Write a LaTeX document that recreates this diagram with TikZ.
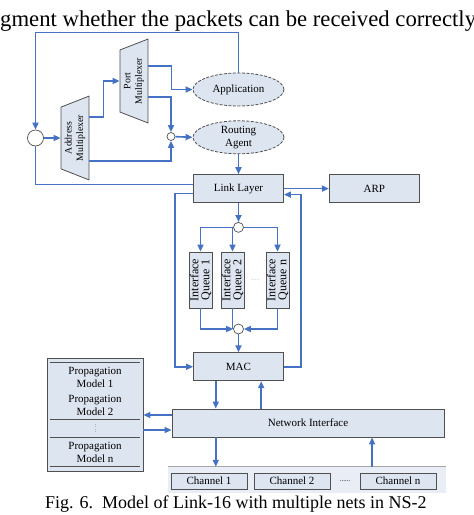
\documentclass[tikz,border=0pt]{standalone}
\usepackage{fontspec}
\setmainfont{Liberation Serif}
\usepackage{xcolor}
\usetikzlibrary{shapes.geometric,arrows.meta,positioning,calc}
\definecolor{linkblue}{RGB}{70,114,196}
\definecolor{boxfill}{RGB}{221,229,241}
\definecolor{chanfill}{RGB}{233,238,246}
\definecolor{boxline}{RGB}{80,80,80}

\begin{document}
\begin{tikzpicture}[x=1pt, y=-1pt,
    box/.style={draw=boxline, line width=0.8pt, fill=boxfill, minimum width=#1,
                minimum height=28pt, inner sep=1pt, align=center,
                font=\fontsize{11}{13}\selectfont},
    box/.default=90pt,
    ell/.style={ellipse, draw=boxline, line width=0.8pt, dash pattern=on 3pt off 1.5pt,
                fill=boxfill, minimum width=91pt, minimum height=33pt, inner sep=0pt,
                align=center, font=\fontsize{11}{13}\selectfont},
    mux/.style={trapezium, trapezium angle=68, trapezium stretches=true, rotate=90,
                draw=boxline, line width=0.8pt, fill=boxfill, minimum width=84pt,
                minimum height=28pt, inner sep=0pt, align=center,
                font=\fontsize{9.8}{11.5}\selectfont},
    queue/.style={rectangle, rotate=90, draw=boxline, line width=0.8pt, fill=boxfill,
                minimum width=56pt, minimum height=23pt, inner sep=0pt, align=center,
                font=\fontsize{12}{11}\selectfont},
    junc/.style={circle, draw=boxline, line width=0.7pt, fill=white, minimum size=#1,
                inner sep=0pt},
    chan/.style={draw=boxline, line width=0.8pt, fill=boxfill, minimum width=76pt,
                minimum height=16pt, inner sep=0pt, font=\fontsize{11}{12}\selectfont},
    txt/.style={inner sep=0pt, align=center, font=\fontsize{11}{13}\selectfont},
    link/.style={linkblue, line width=1.6pt},
    arr/.style={link, -{Triangle[length=7pt, width=6pt]}},
    node distance=14pt
]
\useasboundingbox (0,0) rectangle (474,515);

\node[anchor=base west, inner sep=0pt, font=\fontsize{22.7}{26}\selectfont] (head)
    at (0,26.7) {gment whether the packets can be received correctly};

\node[ell] (app) at (238.5,89.5) {Application};
\node[ell, below=14pt of app] (rag) {Routing\\Agent};
\node[box, below=20pt of rag] (ll) {Link Layer};
\node[box, right=45pt of ll] (arp) {ARP};

\node[junc=16pt] (cl) at (35.5,138) {};
\node[mux] (amux) at (75,138) {Address\\Multiplexer};
\node[mux] (pmux) at (134,81) {Port\\Multiplexer};
\node[junc=8pt] (cm) at (171,136.5) {};

\node[junc=10pt, below=19pt of ll] (cq) {};
\node[queue] (q1) at (200.5,280) {Interface\\Queue 1};
\node[queue] (q2) at (232.5,280) {Interface\\Queue 2};
\node[queue] (qn) at (277.5,280) {Interface\\Queue n};
\node[text=gray!60, font=\fontsize{6}{6}\selectfont] (qdots) at (255,280) {......};
\node[junc=10pt] (cq2) at (238.5,329) {};
\node[box, below=18pt of cq2] (mac) {MAC};

\node[box=272pt] (ni) at (308,423) {Network Interface};

\node[box=96pt, minimum height=113pt] (prop) at (95,414.5) {};
\foreach \dy in {5,61.5,79.5,108.5}
    \draw[boxline, line width=0.9pt] ($(prop.north west)+(3,\dy)$) -- ($(prop.north east)+(-3,\dy)$);
\node[txt] (pm1) at ($(prop.north)+(0,20)$) {Propagation\\Model 1};
\node[txt] (pm2) at ($(prop.north)+(0,48)$) {Propagation\\Model 2};
\node[txt] (pmn) at ($(prop.north)+(0,95)$) {Propagation\\Model n};
\draw[gray!60, dotted, line width=0.6pt] ($(prop.north)+(0,66)$) -- ($(prop.north)+(0,76)$);

\node[fill=chanfill, minimum width=278pt, minimum height=26pt, inner sep=0pt] (chs) at (307,480) {};
\draw[gray!70, line width=0.8pt] (chs.north west) -- (chs.north east);
\node[chan] (ch1) at (209,481) {Channel 1};
\node[chan] (ch2) at (292,481) {Channel 2};
\node[chan] (chn) at (398,481) {Channel n};
\node[font=\fontsize{7}{7}\selectfont] (chdots) at (345,481) {......};

\node[anchor=base west, inner sep=0pt, font=\fontsize{18}{20}\selectfont] (caption)
    at (45,508.5) {Fig. 6.\ \ Model of Link-16 with multiple nets in NS-2};

\draw[arr] (app.north) -- ++(0,-40) -| (cl.north);
\draw[link] ([yshift=4pt]ll.west) -| (cl.south);
\draw[arr] (cl) -- (amux.north);
\draw[arr] ([yshift=21pt]amux.south) -- ++(14,0) |- (pmux.north);
\draw[arr] ([yshift=-23pt]amux.south) -| (cm.south);
\draw[arr] ([yshift=15pt]pmux.south) -- ++(23,0) |- (app.west);
\draw[arr] ([yshift=-16pt]pmux.south) -| (cm.north);
\draw[arr] (cm) -- (rag.west);
\draw[arr] (rag) -- (ll);
\draw[arr] (ll.east) -- (ll.east -| arp.west);

\draw[arr] (ll) -- (cq);
\draw[arr] (cq.west) -| (q1.east);
\draw[arr] (cq.west -| q2.east) -- (q2.east);
\draw[arr] (cq.east) -| (qn.east);
\draw[link] (q2.west) -- (q2.west |- cq2.west);
\draw[arr] (q1.west) |- (cq2.west);
\draw[arr] (qn.west) |- (cq2.east);
\draw[arr] (cq2) -- (mac);
\draw[arr] ([yshift=-5pt]ll.west) -- ++(-18,0) |- (mac.west);
\draw[arr] (mac.east) -- ++(17,0) |- ([yshift=-6pt]ll.east);

\coordinate (mdn) at ($(mac.south west)!0.25!(mac.south east)$);
\coordinate (mup) at ($(mac.south west)!0.75!(mac.south east)$);
\draw[arr] (mdn) -- (mdn |- ni.north);
\draw[arr] (mup |- ni.north) -- (mup);

\coordinate (niu) at ($(ni.west)+(0,-8)$);
\coordinate (nid) at ($(ni.west)+(0,7)$);
\draw[arr] (niu) -- (niu -| prop.east);
\draw[arr] (nid -| prop.east) -- (nid);

\coordinate (cup) at ($(ni.south west)!0.735!(ni.south east)$);
\draw[arr] (mdn |- ni.south) -- (mdn |- chs.north);
\draw[arr] (cup |- chs.north) -- (cup);
\end{tikzpicture}
\end{document}
